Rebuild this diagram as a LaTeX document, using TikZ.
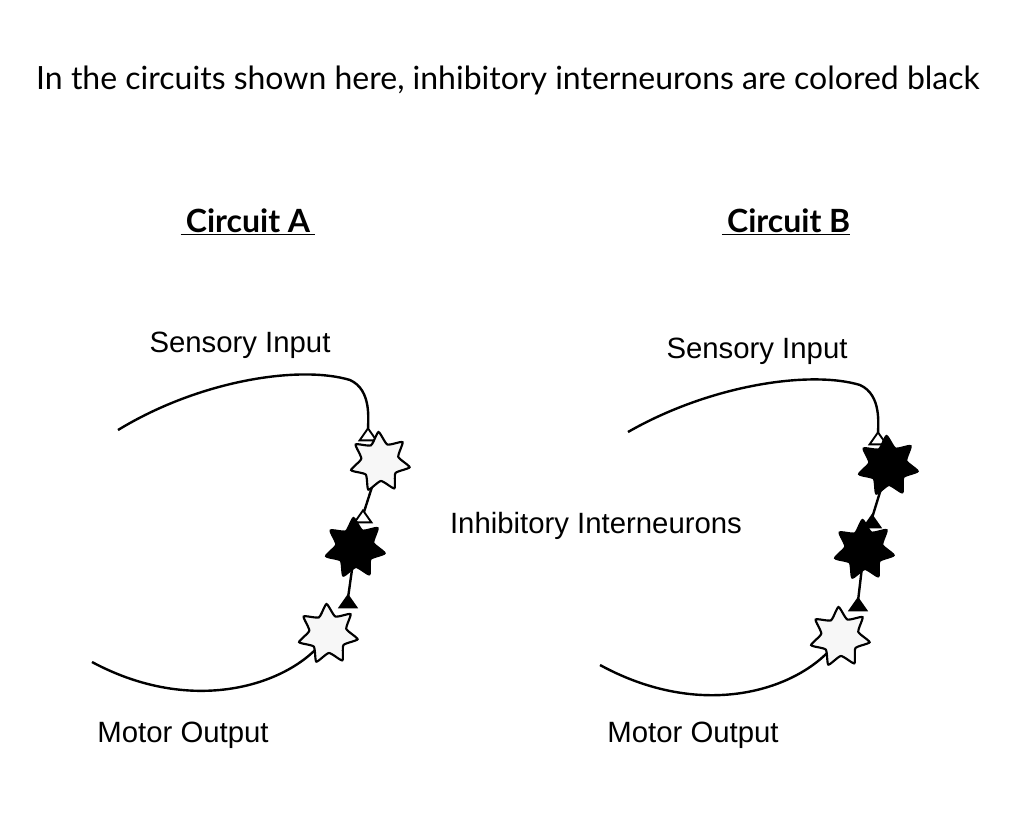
\documentclass[tikz,border=0pt]{standalone}
\usepackage{fontspec}
\usetikzlibrary{shapes.geometric}
\setmainfont{Lato}
\newfontfamily\lab{Liberation Sans}
\begin{document}
\begin{tikzpicture}[x=0.75pt,y=-0.75pt,
  lbl/.style={font=\lab\fontsize{22}{25}\selectfont,inner sep=0},
  ax/.style={line width=1.8pt,black},
  term/.style={draw,line width=1.4pt,fill=#1,isosceles triangle,isosceles triangle apex angle=70,shape border rotate=90,minimum height=9pt,minimum width=11pt,inner sep=0},
  neu/.pic={\fill[#1,draw=black,line width=1.6pt]
     plot[smooth cycle,tension=0.35,samples at={0,...,13}] ({\x*360/14+10}:{mod(\x,2)==0 ? 30 : 19});},
]
\useasboundingbox (0,0) rectangle (1020,836);
\node[font=\fontsize{24}{28}\selectfont] (title) at (508,80) {In the circuits shown here, inhibitory interneurons are colored black};
\node[font=\bfseries\fontsize{24}{28}\selectfont] (ca) at (248,222) {\underline{\,Circuit A\,}};
\node[font=\bfseries\fontsize{24}{28}\selectfont] (cb) at (786,222) {\underline{\,Circuit B}};
\node[lbl] (sa) at (240,345) {Sensory Input};
\node[lbl] (sb) at (757,351) {Sensory Input};
\node[lbl] (ii) at (596,526) {Inhibitory Interneurons};
\node[lbl] (ma) at (183,735) {Motor Output};
\node[lbl] (mb) at (693,735) {Motor Output};

% Circuit A
\coordinate (a0) at (118,430);
\coordinate (a1) at (380,462);
\coordinate (a2) at (355,548);
\coordinate (a3) at (328,634);
\coordinate (a4) at (92,662);
\draw[ax] (a0) .. controls (200,380) and (300,365) .. (350,380) .. controls (372,390) and (368,420) .. (368,430);
\node[term=white] (ta1) at (368,436) {};
\draw[ax] (a1) -- (363,515);
\node[term=white] (ta2) at (363,518) {};
\draw[ax] (a2) -- (348,598);
\node[term=black] (ta3) at (348,603) {};
\draw[ax] (a3) .. controls (300,680) and (200,720) .. (a4);
\pic at (a1) {neu=white!94!gray};
\pic at (a2) {neu=black};
\pic at (a3) {neu=white!94!gray};

% Circuit B
\coordinate (b0) at (628,432);
\coordinate (b1) at (888,466);
\coordinate (b2) at (864,550);
\coordinate (b3) at (840,637);
\coordinate (b4) at (600,665);
\draw[ax] (b0) .. controls (710,385) and (810,370) .. (860,385) .. controls (882,395) and (878,425) .. (878,434);
\node[term=white] (tb1) at (878,440) {};
\draw[ax] (b1) -- (872,518);
\node[term=black] (tb2) at (872,523) {};
\draw[ax] (b2) -- (858,601);
\node[term=black] (tb3) at (858,606) {};
\draw[ax] (b3) .. controls (810,685) and (710,725) .. (b4);
\pic at (b1) {neu=black};
\pic at (b2) {neu=black};
\pic at (b3) {neu=white!94!gray};
\end{tikzpicture}
\end{document}
